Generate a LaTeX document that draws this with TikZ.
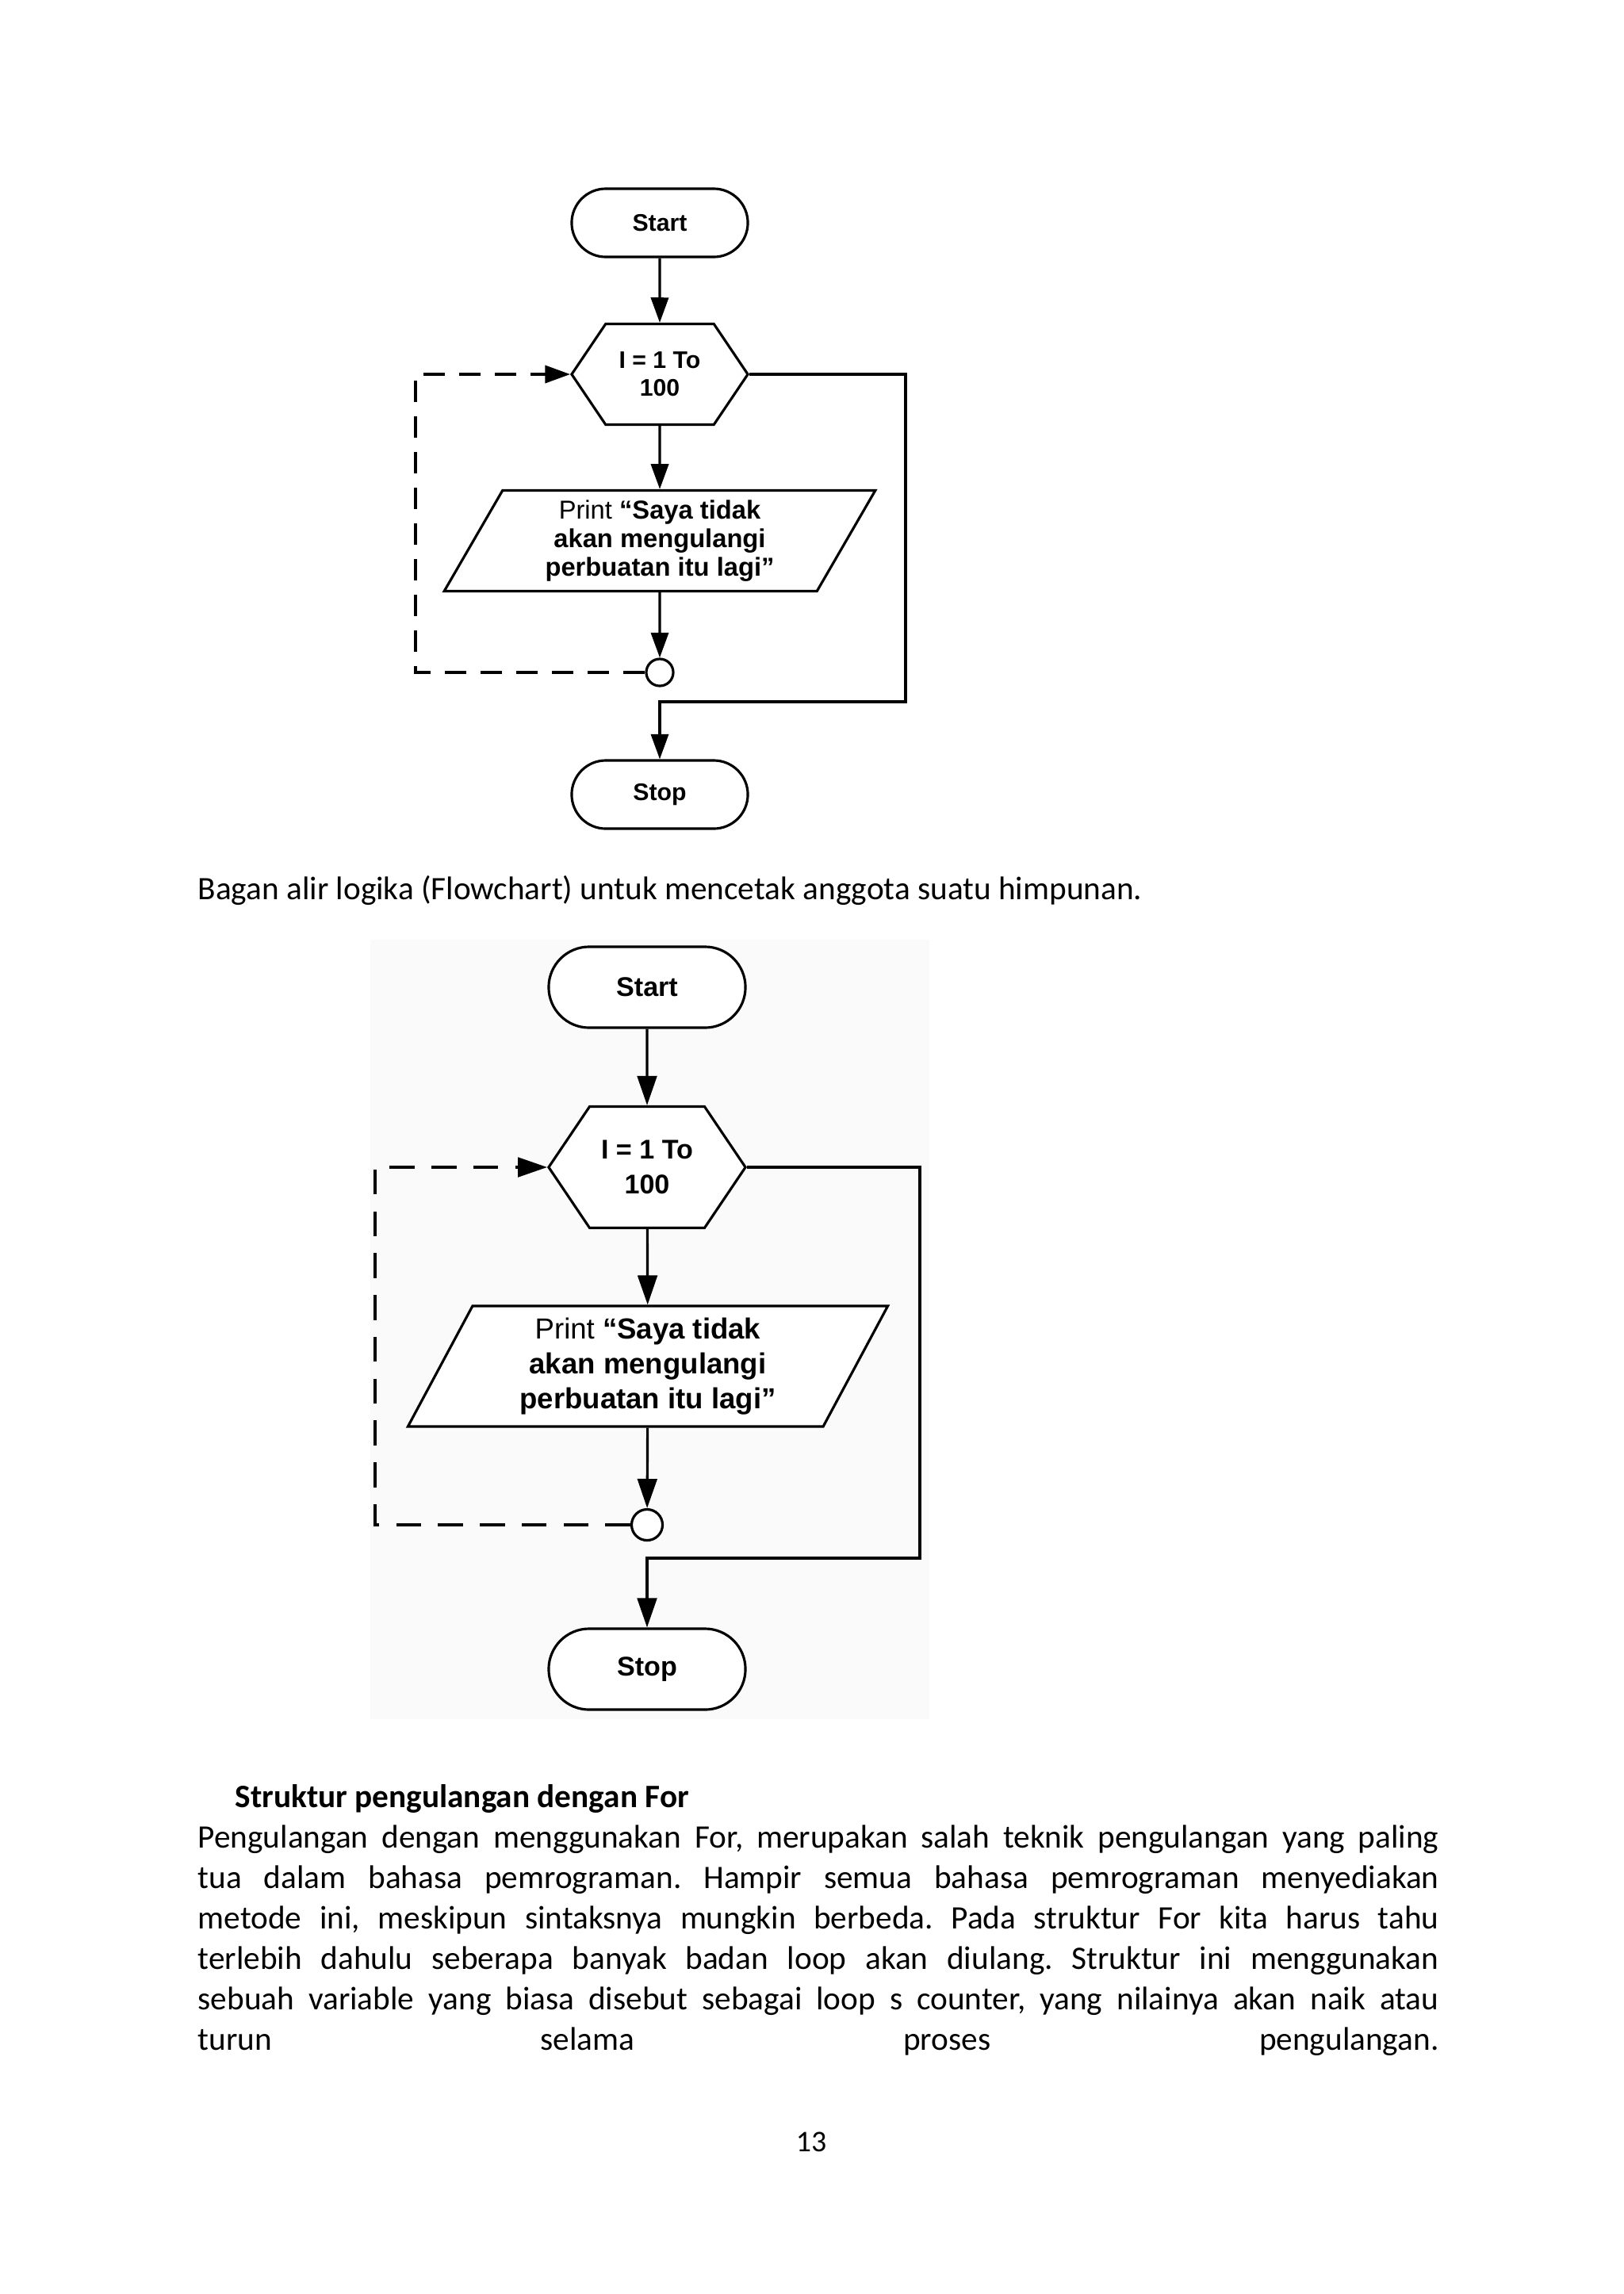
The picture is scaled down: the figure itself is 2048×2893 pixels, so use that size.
\documentclass[tikz,border=0pt]{standalone}
\usepackage{fontspec}
\setmainfont{Carlito}
\newfontfamily\chartfont{Liberation Sans}
\usepackage{tikz}
\usetikzlibrary{arrows.meta}
\usetikzlibrary{shapes.geometric}
\usetikzlibrary{shapes.misc}
\usetikzlibrary{shapes.symbols}
\definecolor{figbg}{RGB}{250,250,250}
\tikzstyle{termnode} = [draw, rounded rectangle, fill=white, line width=0.9pt, inner sep=0pt]
\tikzstyle{loopnode} = [draw, signal, signal to=east and west, signal pointer angle=112, fill=white, line width=0.9pt, align=center, inner sep=0pt]
\tikzstyle{ionode} = [draw, trapezium, trapezium stretches=true, fill=white, line width=0.9pt, align=center, inner sep=0pt]
\tikzstyle{joinnode} = [draw, circle, fill=white, line width=0.9pt, inner sep=0pt]
\tikzstyle{flowA} = [line width=0.9pt, -{Triangle[length=9pt, width=6.3pt]}]
\tikzstyle{backA} = [line width=0.9pt, dash pattern=on 7.8pt off 5pt, -{Triangle[length=9pt, width=6.3pt]}]
\tikzstyle{flowB} = [line width=0.9pt, -{Triangle[length=10.5pt, width=7pt]}]
\tikzstyle{backB} = [line width=0.9pt, dash pattern=on 9pt off 6pt, -{Triangle[length=10.5pt, width=7pt]}]
\tikzstyle{textline} = [font=\fontsize{11.74}{14.5}\selectfont, inner sep=0pt, anchor=base west]
\newcommand{\jline}[1]{\makebox[15.64cm][s]{#1}}
\frenchspacing

\begin{document}
\begin{tikzpicture}[x=0.01cm, y=-0.01cm]
  \useasboundingbox (0,0) rectangle (2048,2893);

  % first chart
  \node[termnode, minimum width=2.22cm, minimum height=0.86cm, font=\chartfont\bfseries\fontsize{8.6}{10}\selectfont] (start1) at (832,281) {Start};
  \node[loopnode, minimum width=2.22cm, minimum height=1.27cm, font=\chartfont\bfseries\fontsize{8.6}{10}\selectfont] (loop1) at (832,472) {I = 1 To\\100};
  \node[ionode, trapezium left angle=62.5, trapezium right angle=117.5, minimum width=5.44cm, minimum height=1.27cm, font=\chartfont\bfseries\fontsize{9.3}{10.3}\selectfont] (print1) at (832,682) {{\mdseries Print} “Saya tidak\\akan mengulangi\\perbuatan itu lagi”};
  \node[joinnode, minimum size=0.34cm] (join1) at (832,848) {};
  \node[termnode, minimum width=2.22cm, minimum height=0.86cm, font=\chartfont\bfseries\fontsize{8.6}{10}\selectfont] (stop1) at (832,1002) {Stop};
  \coordinate (bk1) at (524,660);
  \coordinate (ex1) at (1142,885);

  \draw[flowA] (start1) -- (loop1);
  \draw[flowA] (loop1) -- (print1);
  \draw[flowA] (print1) -- (join1);
  \draw[backA] (join1.west) -| (bk1) |- (loop1.west);
  \draw[flowA] (loop1.east) -| (ex1) -- (ex1 -| stop1) -- (stop1.north);

  \node[textline] (caption) at (249,1134) {Bagan alir logika (Flowchart) untuk mencetak anggota suatu himpunan.};

  % second chart
  \fill[figbg] (467,1185) rectangle (1172,2168);
  \node[termnode, minimum width=2.48cm, minimum height=1.02cm, font=\chartfont\bfseries\fontsize{9.7}{12.5}\selectfont] (start2) at (816,1245) {Start};
  \node[loopnode, minimum width=2.48cm, minimum height=1.53cm, font=\chartfont\bfseries\fontsize{9.7}{12.5}\selectfont] (loop2) at (816,1472) {I = 1 To\\100};
  \node[ionode, trapezium left angle=64, trapezium right angle=116, minimum width=6.05cm, minimum height=1.52cm, font=\chartfont\bfseries\fontsize{10.4}{12.5}\selectfont] (print2) at (817,1723) {{\mdseries Print} “Saya tidak\\akan mengulangi\\perbuatan itu lagi”};
  \node[joinnode, minimum size=0.39cm] (join2) at (816,1923) {};
  \node[termnode, minimum width=2.48cm, minimum height=1.02cm, font=\chartfont\bfseries\fontsize{9.7}{12.5}\selectfont] (stop2) at (816,2105) {Stop};
  \coordinate (bk2) at (473,1700);
  \coordinate (ex2) at (1160,1965);

  \draw[flowB] (start2) -- (loop2);
  \draw[flowB] (loop2) -- (print2);
  \draw[flowB] (print2) -- (join2);
  \draw[backB] (join2.west) -| (bk2) |- (loop2.west);
  \draw[flowB] (loop2.east) -| (ex2) -- (ex2 -| stop2) -- (stop2.north);

  % text below
  \node[textline, font=\fontsize{11.74}{14.5}\selectfont\bfseries] (heading) at (296,2279) {Struktur pengulangan dengan For};
  \foreach \txt [count=\i from 0] in {
    {Pengulangan dengan menggunakan For, merupakan salah teknik pengulangan yang paling},
    {tua dalam bahasa pemrograman. Hampir semua bahasa pemrograman menyediakan},
    {metode ini, meskipun sintaksnya mungkin berbeda. Pada struktur For kita harus tahu},
    {terlebih dahulu seberapa banyak badan loop akan diulang. Struktur ini menggunakan},
    {sebuah variable yang biasa disebut sebagai loop s counter, yang nilainya akan naik atau},
    {turun selama proses pengulangan.}}
    \node[textline] (line\i) at (249,2330+51*\i) {\jline{\txt}};
  \node[textline, font=\fontsize{10.76}{14.5}\selectfont, anchor=base] (pagenum) at (1023,2713) {13};
\end{tikzpicture}
\end{document}
